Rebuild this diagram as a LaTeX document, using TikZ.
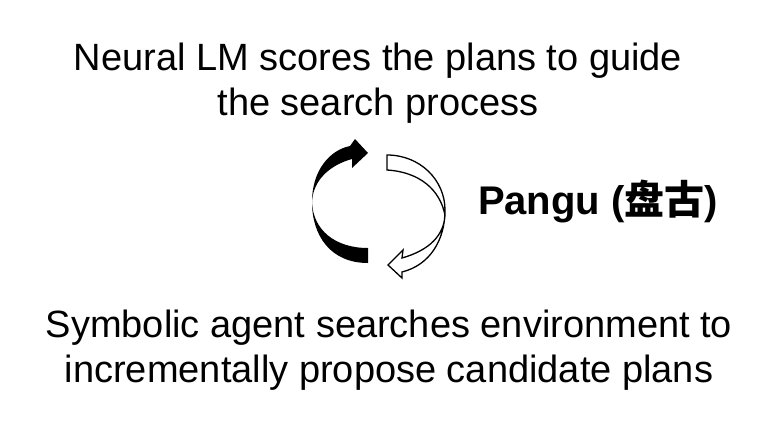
\documentclass[tikz,border=0pt]{standalone}
\usepackage{fontspec}
\setmainfont{Liberation Sans}
\newfontfamily\cjk{Noto Sans CJK SC}
\begin{document}
\begin{tikzpicture}[x=1pt,y=-1pt,
  txt/.style={font=\fontsize{38}{45}\selectfont,align=center,inner sep=0pt}]
\useasboundingbox (0,0) rectangle (784,424);
\node[txt] (top) at (378,83) {Neural LM scores the plans to guide\\the search process};
\node[txt] (bot) at (389,350) {Symbolic agent searches environment to\\incrementally propose candidate plans};
\node[txt,font=\fontsize{40}{45}\bfseries\selectfont] (pangu) at (598,201) {Pangu ({\cjk\bfseries 盘古})};
\fill[black] (368,263) .. controls (330,263) and (312,235) .. (312,202)
  .. controls (312,170) and (330,150) .. (350,146) -- (355,139) -- (368,153) -- (352,168) -- (352,159)
  .. controls (330,165) and (313,180) .. (312,202)
  .. controls (313,230) and (335,248) .. (368,248) -- cycle;
\draw[line width=1.3pt,fill=white,line join=miter] (387,155) .. controls (420,155) and (445,180) .. (445,210)
  .. controls (445,240) and (430,265) .. (402,272) -- (402,278) -- (388,265) -- (403,250) -- (402,258)
  .. controls (430,250) and (444,235) .. (445,215)
  .. controls (440,190) and (420,172) .. (387,170) -- cycle;
\end{tikzpicture}
\end{document}
